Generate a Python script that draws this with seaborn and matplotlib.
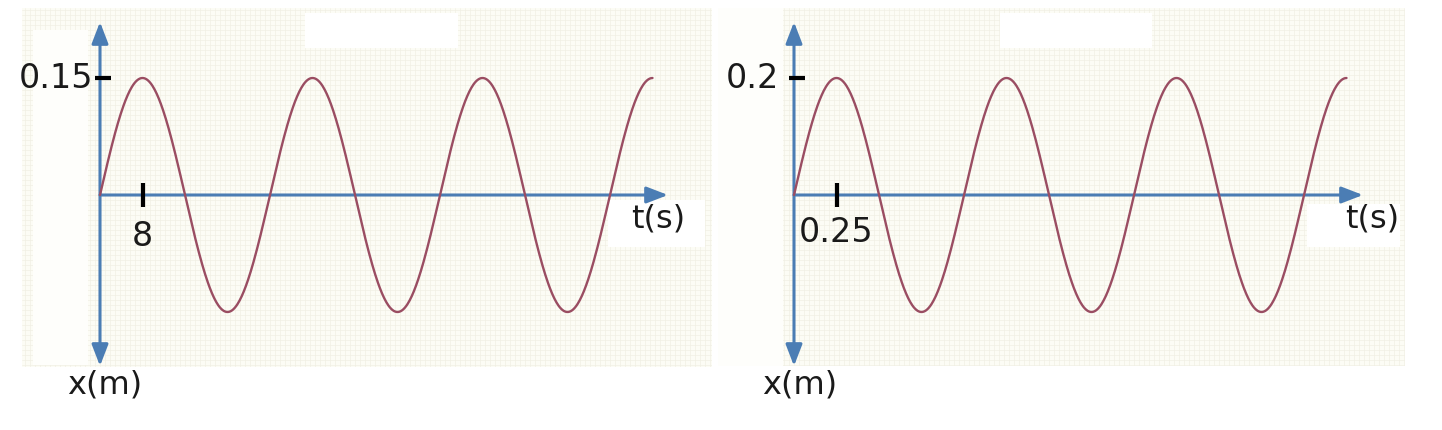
import numpy as np
import pandas as pd
import matplotlib
matplotlib.use("Agg")
import matplotlib.pyplot as plt
import seaborn as sns
from matplotlib.patches import Rectangle
from matplotlib.ticker import MultipleLocator

# Values
amplitudes = [0.15, 0.2]          # peak displacement x (m)
quarter_periods = [8, 0.25]       # time of the first peak (s)
cycles = [3.25, 3.25]             # how many periods are drawn
ytick_labels = ["0.15", "0.2"]
xtick_labels = ["8", "0.25"]
t_label = "t(s)"
x_label = "x(m)"

# Layout (figure pixels, origin top-left)
W, H = 1442, 430
panels = [
    dict(box=(22, 8, 712, 367), origin=(100, 195), ytop=22, ybot=366, xtip=668,
         ylab_x=93, xlab_y=237, tlab=(658, 219), xmlab=(105, 385),
         light=[(33, 30, 88, 365)],
         white=[(305, 13, 458, 48), (608, 200, 705, 247)]),
    dict(box=(718, 8, 1405, 366), origin=(794, 195), ytop=22, ybot=366, xtip=1363,
         ylab_x=779, xlab_y=232, tlab=(1372, 219), xmlab=(800, 385),
         light=[(718, 8, 783, 366)],
         white=[(1000, 13, 1152, 48), (1307, 204, 1400, 247)]),
]
px_quarter = 42.5   # pixels per quarter period
px_amp = 117.0      # pixels per amplitude

blue = "#4b7db4"
curve = "#9a4d62"
bg = "#fcfcf5"
grid = "#f1f0e4"
ink = "#1a1a1a"

sns.set_theme(style="white")
plt.rcParams["font.family"] = ["DejaVu Sans"]

fig = plt.figure(figsize=(W / 100, H / 100), dpi=100)
fig.patch.set_facecolor("white")

for i, p in enumerate(panels):
    A = amplitudes[i]
    qp = quarter_periods[i]
    sx = px_quarter / qp
    sy = px_amp / A
    x0, y0 = p["origin"]
    left, top, right, bottom = p["box"]

    def dx(px):
        return (px - x0) / sx

    def dy(py):
        return (y0 - py) / sy

    ax = fig.add_axes([left / W, (H - bottom) / H, (right - left) / W, (bottom - top) / H])
    ax.set_facecolor(bg)

    t = np.linspace(0, cycles[i] * 4 * qp, 800)
    x = A * np.sin(2 * np.pi * t / (4 * qp))
    df = pd.DataFrame({"t": t, "x": x})
    sns.lineplot(data=df, x="t", y="x", ax=ax, color=curve, lw=1.7, zorder=3)

    ax.set_xlim(dx(left), dx(right))
    ax.set_ylim(dy(bottom), dy(top))
    ax.set_xlabel("")
    ax.set_ylabel("")

    # faint background grid
    ax.xaxis.set_minor_locator(MultipleLocator(5 / sx))
    ax.yaxis.set_minor_locator(MultipleLocator(5 / sy))
    ax.set_xticks([])
    ax.set_yticks([])
    ax.tick_params(which="both", length=0)
    ax.grid(which="minor", color=grid, lw=0.5)
    ax.set_axisbelow(True)
    for s in ax.spines.values():
        s.set_visible(False)

    for (l, tp, r, b) in p["light"]:
        ax.add_patch(Rectangle((dx(l), dy(b)), (r - l) / sx, (b - tp) / sy,
                               facecolor="#fefefb", edgecolor="none", zorder=1))
    for (l, tp, r, b) in p["white"]:
        ax.add_patch(Rectangle((dx(l), dy(b)), (r - l) / sx, (b - tp) / sy,
                               facecolor="white", edgecolor="none", zorder=1))

    # axes arrows
    ax.annotate("", xy=(0, dy(p["ytop"])), xytext=(0, dy(p["ybot"])),
                arrowprops=dict(arrowstyle="<|-|>,head_length=1.3,head_width=0.5",
                                color=blue, lw=2.2, shrinkA=0, shrinkB=0,
                                mutation_scale=10), zorder=2)
    ax.annotate("", xy=(dx(p["xtip"]), 0), xytext=(0, 0),
                arrowprops=dict(arrowstyle="-|>,head_length=1.3,head_width=0.5",
                                color=blue, lw=2.2, shrinkA=0, shrinkB=0,
                                mutation_scale=10), zorder=2)

    # tick marks
    ax.plot([qp, qp], [dy(183), dy(207)], color="black", lw=3, solid_capstyle="butt", zorder=4)
    ax.plot([dx(x0 - 5), dx(x0 + 11)], [A, A], color="black", lw=3, solid_capstyle="butt", zorder=4)

    ax.text(dx(p["ylab_x"]), A, ytick_labels[i], ha="right", va="center", fontsize=24, color=ink)
    ax.text(qp, dy(p["xlab_y"]), xtick_labels[i], ha="center", va="center", fontsize=24, color=ink)
    ax.text(dx(p["tlab"][0]), dy(p["tlab"][1]), t_label, ha="center", va="center",
            fontsize=23, color=ink, zorder=5)
    ax.text(dx(p["xmlab"][0]), dy(p["xmlab"][1]), x_label, ha="center", va="center",
            fontsize=23, color=ink, clip_on=False)

fig.savefig("out.png", dpi=100, facecolor="white")
